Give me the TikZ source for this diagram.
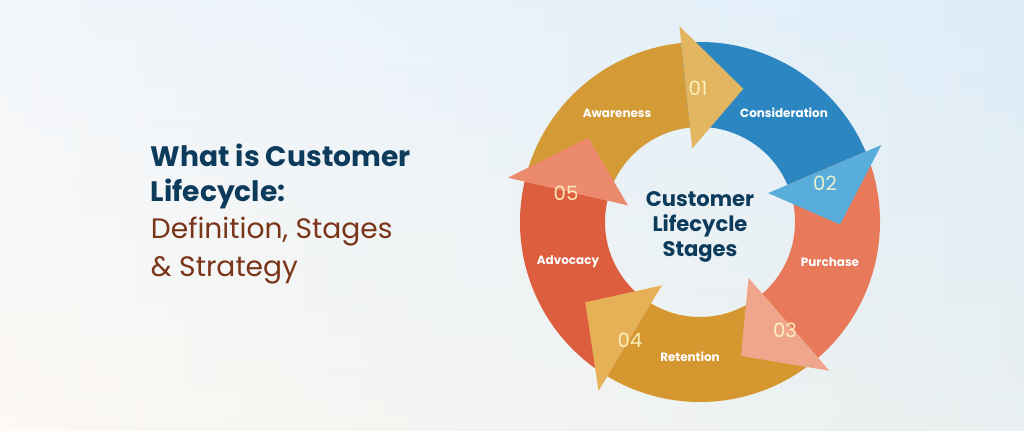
\documentclass[tikz,border=0pt]{standalone}
\usepackage{fontspec}
\setmainfont{Poppins}
\definecolor{navy}{HTML}{0D3B5C}
\definecolor{brownish}{HTML}{7A3418}
\definecolor{goldA}{HTML}{D39A35}
\definecolor{goldB}{HTML}{E3B561}
\definecolor{blueA}{HTML}{2C86C2}
\definecolor{blueB}{HTML}{58ADDA}
\definecolor{salA}{HTML}{E8795A}
\definecolor{salB}{HTML}{EFA68C}
\definecolor{redA}{HTML}{DD5E3E}
\definecolor{redB}{HTML}{EC8A6E}
\definecolor{bgtop}{HTML}{E6EEF8}
\definecolor{bgbot}{HTML}{FBF3E8}
\definecolor{bgright}{HTML}{D8ECF8}
\tikzset{
  stage/.style={font=\bfseries\fontsize{8.5}{10}\selectfont, text=white},
  num/.style={font=\fontsize{14}{16}\selectfont, text=white!80!yellow, opacity=0.85},
  title/.style={font=\bfseries\fontsize{20}{24}\selectfont, text=navy, anchor=west},
  subtitle/.style={font=\fontsize{20}{24}\selectfont, text=brownish, anchor=west},
}
% body of a stage: from angle #1 to angle #2
\newcommand{\stagebody}[3]{\fill[#3] (#1:180) arc (#1:#2:180) -- (#2:95) arc (#2:#1:95) -- cycle;}
% head of a stage: base at angle #1, tip 23 degrees further
\newcommand{\stagehead}[2]{\fill[#2] (#1:74) -- (#1:197) -- ({#1-24}:140) -- cycle;}
\begin{document}
\begin{tikzpicture}[x=0.025cm,y=0.025cm]
\shade[top color=bgtop, bottom color=bgbot] (0,0) rectangle (1024,430);
\shade[left color=white, right color=bgright, opacity=0.5] (0,0) rectangle (1024,430);
\useasboundingbox (0,0) rectangle (1024,430);

% Ring
\begin{scope}[shift={(700,208)}]
\stagebody{167}{96}{goldA}
\stagebody{96}{23}{blueA}
\stagebody{23}{-49}{salA}
\stagebody{-49}{-121}{goldA!90!orange}
\stagebody{-121}{-193}{redA}
\stagehead{96}{goldB}
\stagehead{23}{blueB}
\stagehead{-49}{salB}
\stagehead{-121}{goldB!90!orange}
\stagehead{167}{redB}
\end{scope}

% Labels
\node[stage] (aware) at (617,317) {Awareness};
\node[stage] (consid) at (784,317) {Consideration};
\node[stage] (purch) at (830,168) {Purchase};
\node[stage] (reten) at (690,73) {Retention};
\node[stage] (advoc) at (568,168) {Advocacy};
\node[num] (n1) at (698,342) {01};
\node[num] (n2) at (825,247) {02};
\node[num] (n3) at (785,100) {03};
\node[num] (n4) at (630,90) {04};
\node[num] (n5) at (566,237) {05};
\node[font=\bfseries\fontsize{15}{18}\selectfont, text=navy, align=center] (center) at (700,203) {Customer\\Lifecycle\\Stages};

% Title
\node[title] (t1) at (146,275) {What is Customer};
\node[title] (t2) at (146,236) {Lifecycle:};
\node[subtitle] (t3) at (146,198) {Definition, Stages};
\node[subtitle] (t4) at (146,160) {\& Strategy};
\end{tikzpicture}
\end{document}
